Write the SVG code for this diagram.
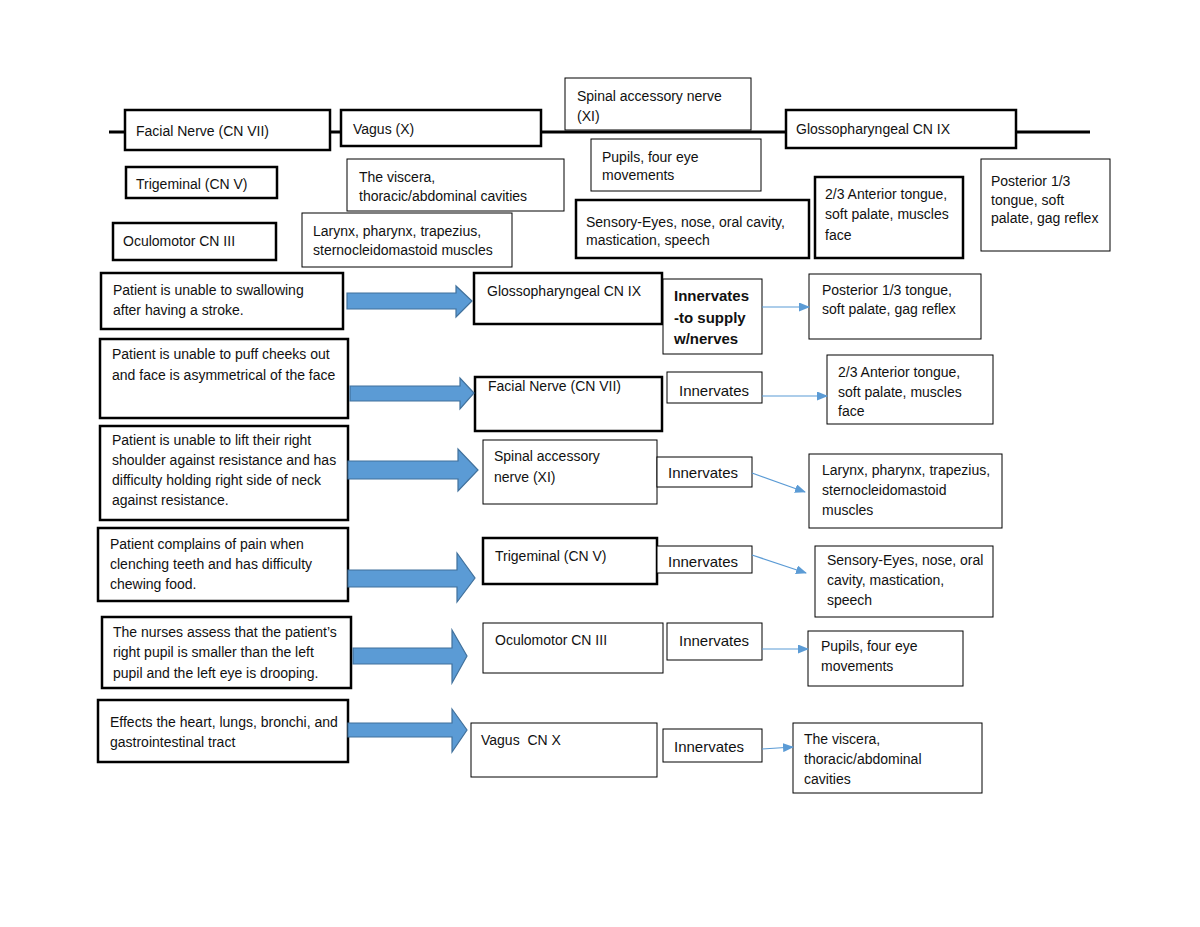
<svg xmlns="http://www.w3.org/2000/svg" width="1200" height="927" viewBox="0 0 1200 927">
<style>
text{font-family:"Liberation Sans",Arial,sans-serif;font-size:14px;fill:#111}
.b{fill:#fff;stroke:#000;stroke-width:1}
.k{fill:#fff;stroke:#000;stroke-width:2.5}
.inv{font-size:15px}
.bold{font-weight:bold;font-size:15px}
.blk{fill:#5b9bd5;stroke:#41719c;stroke-width:1.2}
.thin{stroke:#5b9bd5;stroke-width:1.2;fill:none;marker-end:url(#ah)}
</style>
<defs>
<marker id="ah" markerWidth="11" markerHeight="9" refX="10" refY="4.5" orient="auto" markerUnits="userSpaceOnUse">
<path d="M0,0 L11,4.5 L0,9 Z" fill="#5b9bd5"/>
</marker>
</defs>
<rect width="1200" height="927" fill="#fff"/>
<line x1="109" y1="132" x2="1090" y2="132" stroke="#000" stroke-width="3"/>

<g id="top-facial"><rect class="k" x="125" y="110" width="205" height="40"/><text x="136" y="136">Facial Nerve (CN VII)</text></g>
<g id="top-vagus"><rect class="k" x="341" y="110" width="200" height="36"/><text x="353" y="134">Vagus (X)</text></g>
<g id="top-spinal"><rect class="b" x="565" y="78" width="186" height="52"/><text x="577" y="101">Spinal accessory nerve</text><text x="577" y="121">(XI)</text></g>
<g id="top-glosso"><rect class="k" x="786" y="110" width="230" height="38"/><text x="796" y="134">Glossopharyngeal CN IX</text></g>
<g id="top-trigeminal"><rect class="k" x="126" y="167" width="151" height="31"/><text x="136" y="189">Trigeminal (CN V)</text></g>
<g id="top-oculomotor"><rect class="k" x="113" y="223" width="163" height="37"/><text x="123" y="246">Oculomotor CN III</text></g>
<g id="top-viscera"><rect class="b" x="347" y="159" width="217" height="52"/><text x="359" y="182">The viscera,</text><text x="359" y="201">thoracic/abdominal cavities</text></g>
<g id="top-larynx"><rect class="b" x="302" y="213" width="210" height="54"/><text x="313" y="236">Larynx, pharynx, trapezius,</text><text x="313" y="255">sternocleidomastoid muscles</text></g>
<g id="top-pupils"><rect class="b" x="591" y="139" width="170" height="52"/><text x="602" y="162">Pupils, four eye</text><text x="602" y="180">movements</text></g>
<g id="top-sensory"><rect class="k" x="576" y="200" width="233" height="58"/><text x="586" y="227">Sensory-Eyes, nose, oral cavity,</text><text x="586" y="245">mastication, speech</text></g>
<g id="top-anterior"><rect class="k" x="815" y="177" width="148" height="81"/><text x="825" y="199">2/3 Anterior tongue,</text><text x="825" y="219">soft palate, muscles</text><text x="825" y="240">face</text></g>
<g id="top-posterior"><rect class="b" x="981" y="159" width="129" height="92"/><text x="991" y="186">Posterior 1/3</text><text x="991" y="205">tongue, soft</text><text x="991" y="223">palate, gag reflex</text></g>

<g id="case1"><rect class="k" x="101" y="273" width="242" height="56"/><text x="113" y="295">Patient is unable to swallowing</text><text x="113" y="315">after having a stroke.</text></g>
<g id="case2"><rect class="k" x="100" y="339" width="248" height="79"/><text x="112" y="359">Patient is unable to puff cheeks out</text><text x="112" y="380">and face is asymmetrical of the face</text></g>
<g id="case3"><rect class="k" x="100" y="426" width="248" height="94"/><text x="112" y="445">Patient is unable to lift their right</text><text x="112" y="465">shoulder against resistance and has</text><text x="112" y="485">difficulty holding right side of neck</text><text x="112" y="505">against resistance.</text></g>
<g id="case4"><rect class="k" x="98" y="528" width="250" height="73"/><text x="110" y="549">Patient complains of pain when</text><text x="110" y="569">clenching teeth and has difficulty</text><text x="110" y="589">chewing food.</text></g>
<g id="case5"><rect class="k" x="102" y="617" width="249" height="71"/><text x="113" y="637">The nurses assess that the patient’s</text><text x="113" y="657">right pupil is smaller than the left</text><text x="113" y="678">pupil and the left eye is drooping.</text></g>
<g id="case6"><rect class="k" x="98" y="700" width="250" height="62"/><text x="110" y="727">Effects the heart, lungs, bronchi, and</text><text x="110" y="747">gastrointestinal tract</text></g>

<g id="nerve1"><rect class="k" x="474" y="273" width="188" height="51"/><text x="487" y="296">Glossopharyngeal CN IX</text></g>
<g id="nerve2"><rect class="k" x="475" y="377" width="187" height="54"/><text x="488" y="391">Facial Nerve (CN VII)</text></g>
<g id="nerve3"><rect class="b" x="483" y="440" width="174" height="64"/><text x="494" y="461">Spinal accessory</text><text x="494" y="482">nerve (XI)</text></g>
<g id="nerve4"><rect class="k" x="483" y="538" width="174" height="46"/><text x="495" y="561">Trigeminal (CN V)</text></g>
<g id="nerve5"><rect class="b" x="483" y="623" width="180" height="50"/><text x="495" y="645">Oculomotor CN III</text></g>
<g id="nerve6"><rect class="b" x="471" y="723" width="186" height="54"/><text x="481" y="745">Vagus&#160; CN X</text></g>

<g id="inn1"><rect class="b" x="663" y="279" width="99" height="75"/><text class="bold" x="674" y="301">Innervates</text><text class="bold" x="674" y="323">-to supply</text><text class="bold" x="674" y="344">w/nerves</text></g>
<g id="inn2"><rect class="b" x="667" y="372" width="95" height="31"/><text class="inv" x="679" y="396">Innervates</text></g>
<g id="inn3"><rect class="b" x="657" y="457" width="95" height="30"/><text class="inv" x="668" y="478">Innervates</text></g>
<g id="inn4"><rect class="b" x="657" y="546" width="95" height="27"/><text class="inv" x="668" y="567">Innervates</text></g>
<g id="inn5"><rect class="b" x="667" y="623" width="95" height="37"/><text class="inv" x="679" y="646">Innervates</text></g>
<g id="inn6"><rect class="b" x="663" y="729" width="99" height="33"/><text class="inv" x="674" y="752">Innervates</text></g>

<g id="res1"><rect class="b" x="809" y="274" width="172" height="65"/><text x="822" y="295">Posterior 1/3 tongue,</text><text x="822" y="314">soft palate, gag reflex</text></g>
<g id="res2"><rect class="b" x="827" y="355" width="166" height="69"/><text x="838" y="377">2/3 Anterior tongue,</text><text x="838" y="397">soft palate, muscles</text><text x="838" y="416">face</text></g>
<g id="res3"><rect class="b" x="809" y="454" width="193" height="74"/><text x="822" y="475">Larynx, pharynx, trapezius,</text><text x="822" y="495">sternocleidomastoid</text><text x="822" y="515">muscles</text></g>
<g id="res4"><rect class="b" x="815" y="546" width="178" height="71"/><text x="827" y="565">Sensory-Eyes, nose, oral</text><text x="827" y="585">cavity, mastication,</text><text x="827" y="605">speech</text></g>
<g id="res5"><rect class="b" x="808" y="631" width="155" height="55"/><text x="821" y="651">Pupils, four eye</text><text x="821" y="671">movements</text></g>
<g id="res6"><rect class="b" x="793" y="723" width="189" height="70"/><text x="804" y="744">The viscera,</text><text x="804" y="764">thoracic/abdominal</text><text x="804" y="784">cavities</text></g>

<g id="connectors">
<polygon class="blk" points="347,293 456,293 456,286 472,301 456,317 456,309 347,309"/>
<polygon class="blk" points="350,386 460,386 460,378 474,393 460,409 460,401 350,401"/>
<polygon class="blk" points="348,461 458,461 458,449 478,470 458,491 458,479 348,479"/>
<polygon class="blk" points="348,570 457,570 457,553 475,578 457,602 457,587 348,587"/>
<polygon class="blk" points="353,648 452,648 452,630 467,656 452,683 452,664 353,664"/>
<polygon class="blk" points="348,723 452,723 452,709 467,730 452,752 452,737 348,737"/>
<line class="thin" x1="762" y1="307" x2="809" y2="307"/>
<line class="thin" x1="762" y1="396" x2="827" y2="396"/>
<line class="thin" x1="752" y1="473" x2="805" y2="492"/>
<line class="thin" x1="752" y1="555" x2="806" y2="573"/>
<line class="thin" x1="762" y1="649" x2="808" y2="649"/>
<line class="thin" x1="762" y1="749" x2="793" y2="747"/>
</g>
</svg>
